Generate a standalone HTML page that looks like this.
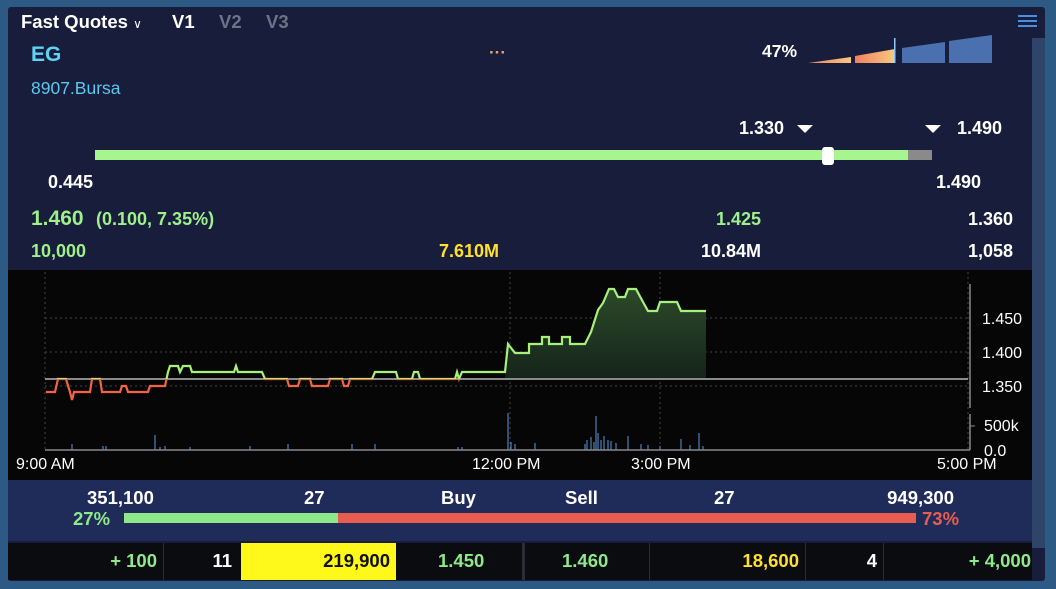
<!DOCTYPE html>
<html><head><style>
*{margin:0;padding:0;box-sizing:border-box}
body{width:1056px;height:589px;background:#2d5a85;font-family:"Liberation Sans",sans-serif;position:relative;overflow:hidden;color:#fff}
.t{position:absolute;font-weight:bold;white-space:nowrap;line-height:1}
</style></head><body>
<div style="position:absolute;left:8px;top:7px;width:1037px;height:574px;background:#171d3a;border-radius:3px"></div>
<div style="position:absolute;left:1032px;top:38px;width:13px;height:510px;background:#2e4468"></div>
<div class="t" style="left:21px;top:13px;font-size:18.5px">Fast Quotes <span style="font-weight:normal;font-size:12px">&#8744;</span></div>
<div class="t" style="left:172px;top:13px;font-size:18.5px">V1</div>
<div class="t" style="left:219px;top:13px;font-size:18.5px;color:#6b7385">V2</div>
<div class="t" style="left:266px;top:13px;font-size:18.5px;color:#6b7385">V3</div>
<div style="position:absolute;left:1018px;top:15px;width:19px;height:2px;background:#4a8ee0;box-shadow:0 5px 0 #4a8ee0,0 10px 0 #4a8ee0"></div>
<div class="t" style="left:31px;top:44px;font-size:21px;color:#5fd3f5">EG</div>
<div class="t" style="left:31px;top:80px;font-size:17.5px;font-weight:normal;color:#5fc7ef">8907.Bursa</div>
<div class="t" style="left:489px;top:44px;font-size:17px;color:#f0a070">&middot;&middot;&middot;</div>
<div class="t" style="left:762px;top:43px;font-size:17.5px">47%</div>
<svg style="position:absolute;left:800px;top:30px" width="200" height="40">
<defs><linearGradient id="og" x1="0" x2="1"><stop offset="0" stop-color="#f08060"/><stop offset="1" stop-color="#f7c880"/></linearGradient></defs>
<polygon points="8,33 51,27 51,33" fill="url(#og)"/>
<polygon points="55,33 55,26 95,19 95,33" fill="url(#og)"/>
<polygon points="102,33 102,18 145,12 145,33" fill="#4a70b0"/>
<polygon points="149,33 149,11 192,5 192,33" fill="#4a70b0"/>
<rect x="94" y="8" width="1.5" height="25" fill="#8ac8ff"/>
</svg>
<div class="t" style="left:739px;top:119px;font-size:18px">1.330</div>
<svg style="position:absolute;left:796px;top:124px" width="20" height="10"><polygon points="1,1 17,1 9,9" fill="#fff"/></svg>
<svg style="position:absolute;left:924px;top:124px" width="20" height="10"><polygon points="1,1 17,1 9,9" fill="#fff"/></svg>
<div class="t" style="right:54px;top:119px;font-size:18px">1.490</div>
<div style="position:absolute;left:95px;top:150px;width:813px;height:10px;background:#a6f58e"></div>
<div style="position:absolute;left:908px;top:150px;width:24px;height:10px;background:#8a8a8a"></div>
<div style="position:absolute;left:822px;top:147px;width:12px;height:18px;background:#fff;border-radius:3px"></div>
<div class="t" style="left:48px;top:173px;font-size:18px">0.445</div>
<div class="t" style="right:75px;top:173px;font-size:18px">1.490</div>
<div class="t" style="left:31px;top:208px;font-size:21px;color:#9ef08a">1.460</div>
<div class="t" style="left:96px;top:210px;font-size:18px;color:#9ef08a">(0.100, 7.35%)</div>
<div class="t" style="right:295px;top:210px;font-size:18px;color:#9ef08a">1.425</div>
<div class="t" style="right:43px;top:210px;font-size:18px">1.360</div>
<div class="t" style="left:31px;top:242px;font-size:18px;color:#9ef08a">10,000</div>
<div class="t" style="left:439px;top:242px;font-size:18px;color:#ffe030">7.610M</div>
<div class="t" style="right:295px;top:242px;font-size:18px">10.84M</div>
<div class="t" style="right:43px;top:242px;font-size:18px">1,058</div>

<svg style="position:absolute;left:8px;top:270px" width="1024" height="211" viewBox="8 270 1024 211">
<rect x="8" y="270" width="1024" height="211" fill="#060606"/>
<defs>
<clipPath id="up"><rect x="0" y="0" width="1100" height="379"/></clipPath>
<clipPath id="dn"><rect x="0" y="379" width="1100" height="200"/></clipPath>
<linearGradient id="fg" x1="0" x2="0" y1="0" y2="1"><stop offset="0" stop-color="#2c4a2a"/><stop offset="1" stop-color="#15241a"/></linearGradient>
</defs>
<g stroke="#444" stroke-dasharray="2,3" stroke-width="1">
<line x1="45" y1="318" x2="968" y2="318"/><line x1="45" y1="352" x2="968" y2="352"/><line x1="45" y1="386" x2="968" y2="386"/>
<line x1="45" y1="272" x2="45" y2="450"/><line x1="510" y1="272" x2="510" y2="450"/><line x1="660" y1="272" x2="660" y2="450"/><line x1="968" y1="272" x2="968" y2="450"/>
</g>
<polygon fill="url(#fg)" points="505,379 508,344 515,353 529,353 529,344 542,344 542,337 549,337 549,344 562,344 562,337 570,337 570,344 585,344 591,332 598,310 603,303 609,289 614,289 618,297 625,297 628,289 636,289 643,302 648,311 657,311 660,302 677,302 681,311 706,311 706,379"/>
<line x1="45" y1="379" x2="968" y2="379" stroke="#8a8a8a" stroke-width="2"/>
<g id="pl">
<polyline fill="none" stroke-width="2.2" points="46,392 55,392 58,379 66,379 70,392 72,400 74,392 90,392 92,379 100,379 102,392 120,392 122,386 126,386 128,392 148,392 150,386 165,386 168,372 170,366 178,366 180,372 183,366 190,366 192,372 234,372 236,366 238,372 262,372 265,379 287,379 289,386 298,386 300,379 310,379 312,386 328,386 330,379 342,379 344,386 348,386 350,379 372,379 375,372 396,372 398,379 412,379 414,372 418,372 420,379 455,379 457,372 459,379 462,372 505,372 508,344 515,353 529,353 529,344 542,344 542,337 549,337 549,344 562,344 562,337 570,337 570,344 585,344 591,332 598,310 603,303 609,289 614,289 618,297 625,297 628,289 636,289 643,302 648,311 657,311 660,302 677,302 681,311 706,311"/>
</g>
<use href="#pl" stroke="#a8f07c" clip-path="url(#up)"/>
<use href="#pl" stroke="#f26444" clip-path="url(#dn)"/>
<g stroke="#5a9ae0" stroke-width="1">
<line x1="72" y1="450" x2="72" y2="444"/><line x1="103" y1="450" x2="103" y2="446"/><line x1="106" y1="450" x2="106" y2="446"/><line x1="155" y1="450" x2="155" y2="435"/><line x1="160" y1="450" x2="160" y2="447"/><line x1="165" y1="450" x2="165" y2="446"/><line x1="190" y1="450" x2="190" y2="447"/><line x1="250" y1="450" x2="250" y2="446"/><line x1="288" y1="450" x2="288" y2="444"/><line x1="352" y1="450" x2="352" y2="444"/><line x1="375" y1="450" x2="375" y2="444"/><line x1="458" y1="450" x2="458" y2="447"/><line x1="462" y1="450" x2="462" y2="447"/>
<line x1="508" y1="450" x2="508" y2="413"/><line x1="511" y1="450" x2="511" y2="442"/><line x1="515" y1="450" x2="515" y2="444"/><line x1="535" y1="450" x2="535" y2="443"/><line x1="585" y1="450" x2="585" y2="444"/><line x1="587" y1="450" x2="587" y2="440"/><line x1="591" y1="450" x2="591" y2="437"/><line x1="594" y1="450" x2="594" y2="442"/><line x1="596" y1="450" x2="596" y2="416"/><line x1="598" y1="450" x2="598" y2="433"/><line x1="601" y1="450" x2="601" y2="440"/><line x1="604" y1="450" x2="604" y2="436"/><line x1="608" y1="450" x2="608" y2="440"/><line x1="611" y1="450" x2="611" y2="441"/><line x1="616" y1="450" x2="616" y2="443"/><line x1="628" y1="450" x2="628" y2="436"/><line x1="641" y1="450" x2="641" y2="444"/><line x1="648" y1="450" x2="648" y2="445"/><line x1="660" y1="450" x2="660" y2="446"/><line x1="681" y1="450" x2="681" y2="439"/><line x1="690" y1="450" x2="690" y2="445"/><line x1="699" y1="450" x2="699" y2="433"/><line x1="703" y1="450" x2="703" y2="446"/>
</g>
<line x1="45" y1="450" x2="970" y2="450" stroke="#888" stroke-width="1.5"/>
<line x1="970" y1="284" x2="970" y2="408" stroke="#888" stroke-width="1.5"/>
<line x1="970" y1="414" x2="970" y2="450" stroke="#888" stroke-width="1.5"/>
<line x1="970" y1="426" x2="975" y2="426" stroke="#888"/>
<g fill="#fff" font-size="16" font-family="Liberation Sans">
<text x="982" y="324">1.450</text><text x="982" y="358">1.400</text><text x="982" y="392">1.350</text>
<text x="984" y="431">500k</text><text x="984" y="456">0.0</text>
<text x="16" y="469">9:00 AM</text><text x="472" y="469">12:00 PM</text><text x="631" y="469">3:00 PM</text><text x="937" y="469">5:00 PM</text>
</g>
</svg>

<div style="position:absolute;left:8px;top:480px;width:1024px;height:61px;background:#1f2b58"></div>
<div class="t" style="left:87px;top:489px;font-size:18.5px">351,100</div>
<div class="t" style="left:304px;top:489px;font-size:18.5px">27</div>
<div class="t" style="left:441px;top:489px;font-size:18.5px">Buy</div>
<div class="t" style="left:565px;top:489px;font-size:18.5px">Sell</div>
<div class="t" style="left:714px;top:489px;font-size:18.5px">27</div>
<div class="t" style="right:102px;top:489px;font-size:18.5px">949,300</div>
<div class="t" style="left:73px;top:510px;font-size:18.5px;color:#8de98a">27%</div>
<div style="position:absolute;left:124px;top:513px;width:214px;height:10px;background:#8ee88a"></div>
<div style="position:absolute;left:338px;top:513px;width:578px;height:10px;background:#e95c50"></div>
<div class="t" style="left:922px;top:510px;font-size:18.5px;color:#e95c50">73%</div>

<div style="position:absolute;left:8px;top:543px;width:1024px;height:37px;background:#0b0c10"></div>
<div style="position:absolute;left:163px;top:543px;width:1px;height:37px;background:#2a2d35"></div>
<div style="position:absolute;left:241px;top:543px;width:155px;height:37px;background:#fff81a"></div>
<div style="position:absolute;left:522px;top:543px;width:3px;height:37px;background:#2a2d35"></div>
<div style="position:absolute;left:649px;top:543px;width:1px;height:37px;background:#2a2d35"></div>
<div style="position:absolute;left:805px;top:543px;width:1px;height:37px;background:#2a2d35"></div>
<div style="position:absolute;left:883px;top:543px;width:1px;height:37px;background:#2a2d35"></div>
<div class="t" style="right:899px;top:552px;font-size:18.5px;color:#8de98a">+ 100</div>
<div class="t" style="right:824px;top:552px;font-size:18.5px">11</div>
<div class="t" style="right:666px;top:552px;font-size:18.5px;color:#111">219,900</div>
<div class="t" style="left:438px;top:552px;font-size:18.5px;color:#8de98a">1.450</div>
<div class="t" style="left:562px;top:552px;font-size:18.5px;color:#8de98a">1.460</div>
<div class="t" style="right:257px;top:552px;font-size:18.5px;color:#ffe030">18,600</div>
<div class="t" style="right:179px;top:552px;font-size:18.5px">4</div>
<div class="t" style="right:25px;top:552px;font-size:18.5px;color:#8de98a">+ 4,000</div>
</body></html>
